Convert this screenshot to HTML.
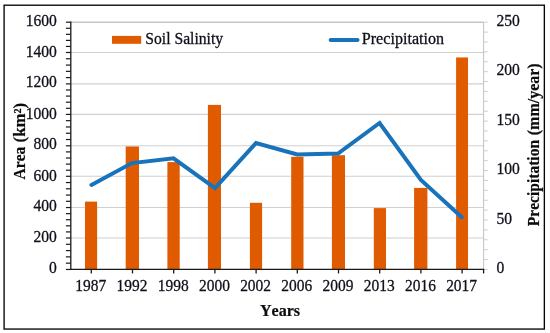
<!DOCTYPE html>
<html><head><meta charset="utf-8"><title>Chart</title>
<style>html,body{margin:0;padding:0;background:#fff;overflow:hidden}body{width:550px;height:333px;position:relative}</style></head>
<body>
<svg width="550" height="333" viewBox="0 0 550 333" style="position:absolute;left:0;top:0">
<rect x="0" y="0" width="550" height="333" fill="#fff"/>
<rect x="4.1" y="5.2" width="540.25" height="323.85" fill="none" stroke="#050505" stroke-width="1.35"/>
<line x1="70.8" y1="238.00" x2="483.6" y2="238.00" stroke="#d0d0d0" stroke-width="1.1"/>
<line x1="70.8" y1="207.55" x2="483.6" y2="207.55" stroke="#d0d0d0" stroke-width="1.1"/>
<line x1="70.8" y1="176.30" x2="483.6" y2="176.30" stroke="#d0d0d0" stroke-width="1.1"/>
<line x1="70.8" y1="145.80" x2="483.6" y2="145.80" stroke="#d0d0d0" stroke-width="1.1"/>
<line x1="70.8" y1="114.40" x2="483.6" y2="114.40" stroke="#d0d0d0" stroke-width="1.1"/>
<line x1="70.8" y1="83.90" x2="483.6" y2="83.90" stroke="#d0d0d0" stroke-width="1.1"/>
<line x1="70.8" y1="52.50" x2="483.6" y2="52.50" stroke="#d0d0d0" stroke-width="1.1"/>
<line x1="70.8" y1="22.20" x2="483.6" y2="22.20" stroke="#c6c6c6" stroke-width="1.4"/>
<line x1="483.6" y1="22.2" x2="483.6" y2="269.46" stroke="#c2c2c2" stroke-width="1"/>
<line x1="483.6" y1="269.46" x2="487.8" y2="269.46" stroke="#cecece" stroke-width="1"/>
<line x1="483.6" y1="259.57" x2="487.8" y2="259.57" stroke="#cecece" stroke-width="1"/>
<line x1="483.6" y1="249.68" x2="487.8" y2="249.68" stroke="#cecece" stroke-width="1"/>
<line x1="483.6" y1="239.79" x2="487.8" y2="239.79" stroke="#cecece" stroke-width="1"/>
<line x1="483.6" y1="229.90" x2="487.8" y2="229.90" stroke="#cecece" stroke-width="1"/>
<line x1="483.6" y1="220.01" x2="487.8" y2="220.01" stroke="#cecece" stroke-width="1"/>
<line x1="483.6" y1="210.12" x2="487.8" y2="210.12" stroke="#cecece" stroke-width="1"/>
<line x1="483.6" y1="200.23" x2="487.8" y2="200.23" stroke="#cecece" stroke-width="1"/>
<line x1="483.6" y1="190.34" x2="487.8" y2="190.34" stroke="#cecece" stroke-width="1"/>
<line x1="483.6" y1="180.45" x2="487.8" y2="180.45" stroke="#cecece" stroke-width="1"/>
<line x1="483.6" y1="170.56" x2="487.8" y2="170.56" stroke="#cecece" stroke-width="1"/>
<line x1="483.6" y1="160.67" x2="487.8" y2="160.67" stroke="#cecece" stroke-width="1"/>
<line x1="483.6" y1="150.78" x2="487.8" y2="150.78" stroke="#cecece" stroke-width="1"/>
<line x1="483.6" y1="140.88" x2="487.8" y2="140.88" stroke="#cecece" stroke-width="1"/>
<line x1="483.6" y1="130.99" x2="487.8" y2="130.99" stroke="#cecece" stroke-width="1"/>
<line x1="483.6" y1="121.10" x2="487.8" y2="121.10" stroke="#cecece" stroke-width="1"/>
<line x1="483.6" y1="111.21" x2="487.8" y2="111.21" stroke="#cecece" stroke-width="1"/>
<line x1="483.6" y1="101.32" x2="487.8" y2="101.32" stroke="#cecece" stroke-width="1"/>
<line x1="483.6" y1="91.43" x2="487.8" y2="91.43" stroke="#cecece" stroke-width="1"/>
<line x1="483.6" y1="81.54" x2="487.8" y2="81.54" stroke="#cecece" stroke-width="1"/>
<line x1="483.6" y1="71.65" x2="487.8" y2="71.65" stroke="#cecece" stroke-width="1"/>
<line x1="483.6" y1="61.76" x2="487.8" y2="61.76" stroke="#cecece" stroke-width="1"/>
<line x1="483.6" y1="51.87" x2="487.8" y2="51.87" stroke="#cecece" stroke-width="1"/>
<line x1="483.6" y1="41.98" x2="487.8" y2="41.98" stroke="#cecece" stroke-width="1"/>
<line x1="483.6" y1="32.09" x2="487.8" y2="32.09" stroke="#cecece" stroke-width="1"/>
<line x1="483.6" y1="22.20" x2="487.8" y2="22.20" stroke="#cecece" stroke-width="1"/>
<rect x="85.00" y="201.60" width="12.10" height="67.86" fill="#e05a00"/>
<rect x="125.70" y="146.45" width="13.30" height="123.01" fill="#e05a00"/>
<rect x="167.40" y="162.10" width="12.30" height="107.36" fill="#e05a00"/>
<rect x="207.90" y="104.90" width="13.10" height="164.56" fill="#e05a00"/>
<rect x="249.90" y="202.80" width="12.20" height="66.66" fill="#e05a00"/>
<rect x="291.20" y="156.80" width="12.30" height="112.66" fill="#e05a00"/>
<rect x="331.90" y="155.20" width="13.10" height="114.26" fill="#e05a00"/>
<rect x="373.80" y="208.10" width="12.20" height="61.36" fill="#e05a00"/>
<rect x="414.10" y="187.90" width="13.30" height="81.56" fill="#e05a00"/>
<rect x="456.10" y="57.45" width="11.90" height="212.01" fill="#e05a00"/>
<line x1="70.8" y1="21.599999999999998" x2="70.8" y2="270.06" stroke="#1a1a1a" stroke-width="1.3"/>
<line x1="65.89999999999999" y1="269.46" x2="70.8" y2="269.46" stroke="#1a1a1a" stroke-width="1.2"/>
<line x1="65.89999999999999" y1="263.17" x2="70.8" y2="263.17" stroke="#1a1a1a" stroke-width="1.2"/>
<line x1="65.89999999999999" y1="256.88" x2="70.8" y2="256.88" stroke="#1a1a1a" stroke-width="1.2"/>
<line x1="65.89999999999999" y1="250.58" x2="70.8" y2="250.58" stroke="#1a1a1a" stroke-width="1.2"/>
<line x1="65.89999999999999" y1="244.29" x2="70.8" y2="244.29" stroke="#1a1a1a" stroke-width="1.2"/>
<line x1="65.89999999999999" y1="238.00" x2="70.8" y2="238.00" stroke="#1a1a1a" stroke-width="1.2"/>
<line x1="65.89999999999999" y1="231.91" x2="70.8" y2="231.91" stroke="#1a1a1a" stroke-width="1.2"/>
<line x1="65.89999999999999" y1="225.82" x2="70.8" y2="225.82" stroke="#1a1a1a" stroke-width="1.2"/>
<line x1="65.89999999999999" y1="219.73" x2="70.8" y2="219.73" stroke="#1a1a1a" stroke-width="1.2"/>
<line x1="65.89999999999999" y1="213.64" x2="70.8" y2="213.64" stroke="#1a1a1a" stroke-width="1.2"/>
<line x1="65.89999999999999" y1="207.55" x2="70.8" y2="207.55" stroke="#1a1a1a" stroke-width="1.2"/>
<line x1="65.89999999999999" y1="201.30" x2="70.8" y2="201.30" stroke="#1a1a1a" stroke-width="1.2"/>
<line x1="65.89999999999999" y1="195.05" x2="70.8" y2="195.05" stroke="#1a1a1a" stroke-width="1.2"/>
<line x1="65.89999999999999" y1="188.80" x2="70.8" y2="188.80" stroke="#1a1a1a" stroke-width="1.2"/>
<line x1="65.89999999999999" y1="182.55" x2="70.8" y2="182.55" stroke="#1a1a1a" stroke-width="1.2"/>
<line x1="65.89999999999999" y1="176.30" x2="70.8" y2="176.30" stroke="#1a1a1a" stroke-width="1.2"/>
<line x1="65.89999999999999" y1="170.20" x2="70.8" y2="170.20" stroke="#1a1a1a" stroke-width="1.2"/>
<line x1="65.89999999999999" y1="164.10" x2="70.8" y2="164.10" stroke="#1a1a1a" stroke-width="1.2"/>
<line x1="65.89999999999999" y1="158.00" x2="70.8" y2="158.00" stroke="#1a1a1a" stroke-width="1.2"/>
<line x1="65.89999999999999" y1="151.90" x2="70.8" y2="151.90" stroke="#1a1a1a" stroke-width="1.2"/>
<line x1="65.89999999999999" y1="145.80" x2="70.8" y2="145.80" stroke="#1a1a1a" stroke-width="1.2"/>
<line x1="65.89999999999999" y1="139.52" x2="70.8" y2="139.52" stroke="#1a1a1a" stroke-width="1.2"/>
<line x1="65.89999999999999" y1="133.24" x2="70.8" y2="133.24" stroke="#1a1a1a" stroke-width="1.2"/>
<line x1="65.89999999999999" y1="126.96" x2="70.8" y2="126.96" stroke="#1a1a1a" stroke-width="1.2"/>
<line x1="65.89999999999999" y1="120.68" x2="70.8" y2="120.68" stroke="#1a1a1a" stroke-width="1.2"/>
<line x1="65.89999999999999" y1="114.40" x2="70.8" y2="114.40" stroke="#1a1a1a" stroke-width="1.2"/>
<line x1="65.89999999999999" y1="108.30" x2="70.8" y2="108.30" stroke="#1a1a1a" stroke-width="1.2"/>
<line x1="65.89999999999999" y1="102.20" x2="70.8" y2="102.20" stroke="#1a1a1a" stroke-width="1.2"/>
<line x1="65.89999999999999" y1="96.10" x2="70.8" y2="96.10" stroke="#1a1a1a" stroke-width="1.2"/>
<line x1="65.89999999999999" y1="90.00" x2="70.8" y2="90.00" stroke="#1a1a1a" stroke-width="1.2"/>
<line x1="65.89999999999999" y1="83.90" x2="70.8" y2="83.90" stroke="#1a1a1a" stroke-width="1.2"/>
<line x1="65.89999999999999" y1="77.62" x2="70.8" y2="77.62" stroke="#1a1a1a" stroke-width="1.2"/>
<line x1="65.89999999999999" y1="71.34" x2="70.8" y2="71.34" stroke="#1a1a1a" stroke-width="1.2"/>
<line x1="65.89999999999999" y1="65.06" x2="70.8" y2="65.06" stroke="#1a1a1a" stroke-width="1.2"/>
<line x1="65.89999999999999" y1="58.78" x2="70.8" y2="58.78" stroke="#1a1a1a" stroke-width="1.2"/>
<line x1="65.89999999999999" y1="52.50" x2="70.8" y2="52.50" stroke="#1a1a1a" stroke-width="1.2"/>
<line x1="65.89999999999999" y1="46.44" x2="70.8" y2="46.44" stroke="#1a1a1a" stroke-width="1.2"/>
<line x1="65.89999999999999" y1="40.38" x2="70.8" y2="40.38" stroke="#1a1a1a" stroke-width="1.2"/>
<line x1="65.89999999999999" y1="34.32" x2="70.8" y2="34.32" stroke="#1a1a1a" stroke-width="1.2"/>
<line x1="65.89999999999999" y1="28.26" x2="70.8" y2="28.26" stroke="#1a1a1a" stroke-width="1.2"/>
<line x1="65.89999999999999" y1="22.2" x2="70.8" y2="22.2" stroke="#1a1a1a" stroke-width="1.2"/>
<line x1="70.2" y1="269.46" x2="484.20000000000005" y2="269.46" stroke="#1a1a1a" stroke-width="1.3"/>
<line x1="91.30" y1="269.46" x2="91.30" y2="273.46" stroke="#1a1a1a" stroke-width="1.3"/>
<line x1="132.50" y1="269.46" x2="132.50" y2="273.46" stroke="#1a1a1a" stroke-width="1.3"/>
<line x1="173.70" y1="269.46" x2="173.70" y2="273.46" stroke="#1a1a1a" stroke-width="1.3"/>
<line x1="214.90" y1="269.46" x2="214.90" y2="273.46" stroke="#1a1a1a" stroke-width="1.3"/>
<line x1="256.10" y1="269.46" x2="256.10" y2="273.46" stroke="#1a1a1a" stroke-width="1.3"/>
<line x1="297.30" y1="269.46" x2="297.30" y2="273.46" stroke="#1a1a1a" stroke-width="1.3"/>
<line x1="338.50" y1="269.46" x2="338.50" y2="273.46" stroke="#1a1a1a" stroke-width="1.3"/>
<line x1="379.70" y1="269.46" x2="379.70" y2="273.46" stroke="#1a1a1a" stroke-width="1.3"/>
<line x1="420.90" y1="269.46" x2="420.90" y2="273.46" stroke="#1a1a1a" stroke-width="1.3"/>
<line x1="462.10" y1="269.46" x2="462.10" y2="273.46" stroke="#1a1a1a" stroke-width="1.3"/>
<line x1="483.60" y1="269.46" x2="483.60" y2="273.46" stroke="#1a1a1a" stroke-width="1.3"/>
<polyline points="91.40,184.90 131.90,163.10 173.50,158.30 215.00,188.20 256.00,143.00 297.20,154.50 338.00,153.60 379.60,123.00 420.90,180.00 461.80,217.20" fill="none" stroke="#1873ba" stroke-width="4.0" stroke-linejoin="miter" stroke-linecap="round"/>
<rect x="112" y="35.9" width="29.2" height="7.9" fill="#e05a00"/>
<line x1="330.6" y1="40.05" x2="357.6" y2="40.05" stroke="#1873ba" stroke-width="3.9" stroke-linecap="round"/>
<text transform="translate(145.3,43.6) scale(0.927,1)" font-family="Liberation Serif, serif" font-size="16.9" fill="#10101c" stroke="#10101c" stroke-width="0.3" style="font-kerning:none" text-anchor="start">Soil Salinity</text>
<text transform="translate(361.8,43.6) scale(0.954,1)" font-family="Liberation Serif, serif" font-size="16.9" fill="#10101c" stroke="#10101c" stroke-width="0.3" style="font-kerning:none" text-anchor="start">Precipitation</text>
<text transform="translate(56.8,273.0) scale(0.95,1)" font-family="Liberation Serif, serif" font-size="16.4" fill="#10101c" stroke="#10101c" stroke-width="0.3" style="font-kerning:none" text-anchor="end">0</text>
<text transform="translate(56.8,241.5) scale(0.95,1)" font-family="Liberation Serif, serif" font-size="16.4" fill="#10101c" stroke="#10101c" stroke-width="0.3" style="font-kerning:none" text-anchor="end">200</text>
<text transform="translate(56.8,211.2) scale(0.95,1)" font-family="Liberation Serif, serif" font-size="16.4" fill="#10101c" stroke="#10101c" stroke-width="0.3" style="font-kerning:none" text-anchor="end">400</text>
<text transform="translate(56.8,180.7) scale(0.95,1)" font-family="Liberation Serif, serif" font-size="16.4" fill="#10101c" stroke="#10101c" stroke-width="0.3" style="font-kerning:none" text-anchor="end">600</text>
<text transform="translate(56.8,149.4) scale(0.95,1)" font-family="Liberation Serif, serif" font-size="16.4" fill="#10101c" stroke="#10101c" stroke-width="0.3" style="font-kerning:none" text-anchor="end">800</text>
<text transform="translate(56.8,118.7) scale(0.95,1)" font-family="Liberation Serif, serif" font-size="16.4" fill="#10101c" stroke="#10101c" stroke-width="0.3" style="font-kerning:none" text-anchor="end">1000</text>
<text transform="translate(56.8,87.4) scale(0.95,1)" font-family="Liberation Serif, serif" font-size="16.4" fill="#10101c" stroke="#10101c" stroke-width="0.3" style="font-kerning:none" text-anchor="end">1200</text>
<text transform="translate(56.8,57.2) scale(0.95,1)" font-family="Liberation Serif, serif" font-size="16.4" fill="#10101c" stroke="#10101c" stroke-width="0.3" style="font-kerning:none" text-anchor="end">1400</text>
<text transform="translate(56.8,25.8) scale(0.95,1)" font-family="Liberation Serif, serif" font-size="16.4" fill="#10101c" stroke="#10101c" stroke-width="0.3" style="font-kerning:none" text-anchor="end">1600</text>
<text transform="translate(496.4,25.6) scale(0.95,1)" font-family="Liberation Serif, serif" font-size="16.4" fill="#10101c" stroke="#10101c" stroke-width="0.3" style="font-kerning:none" text-anchor="start">250</text>
<text transform="translate(496.4,75.2) scale(0.95,1)" font-family="Liberation Serif, serif" font-size="16.4" fill="#10101c" stroke="#10101c" stroke-width="0.3" style="font-kerning:none" text-anchor="start">200</text>
<text transform="translate(496.4,124.7) scale(0.95,1)" font-family="Liberation Serif, serif" font-size="16.4" fill="#10101c" stroke="#10101c" stroke-width="0.3" style="font-kerning:none" text-anchor="start">150</text>
<text transform="translate(496.4,174.3) scale(0.95,1)" font-family="Liberation Serif, serif" font-size="16.4" fill="#10101c" stroke="#10101c" stroke-width="0.3" style="font-kerning:none" text-anchor="start">100</text>
<text transform="translate(496.4,223.5) scale(0.95,1)" font-family="Liberation Serif, serif" font-size="16.4" fill="#10101c" stroke="#10101c" stroke-width="0.3" style="font-kerning:none" text-anchor="start">50</text>
<text transform="translate(496.4,273.2) scale(0.95,1)" font-family="Liberation Serif, serif" font-size="16.4" fill="#10101c" stroke="#10101c" stroke-width="0.3" style="font-kerning:none" text-anchor="start">0</text>
<text transform="translate(90.8,291.1) scale(0.95,1)" font-family="Liberation Serif, serif" font-size="16.3" fill="#10101c" stroke="#10101c" stroke-width="0.3" style="font-kerning:none" text-anchor="middle">1987</text>
<text transform="translate(132.0,291.1) scale(0.95,1)" font-family="Liberation Serif, serif" font-size="16.3" fill="#10101c" stroke="#10101c" stroke-width="0.3" style="font-kerning:none" text-anchor="middle">1992</text>
<text transform="translate(173.2,291.1) scale(0.95,1)" font-family="Liberation Serif, serif" font-size="16.3" fill="#10101c" stroke="#10101c" stroke-width="0.3" style="font-kerning:none" text-anchor="middle">1998</text>
<text transform="translate(214.4,291.1) scale(0.95,1)" font-family="Liberation Serif, serif" font-size="16.3" fill="#10101c" stroke="#10101c" stroke-width="0.3" style="font-kerning:none" text-anchor="middle">2000</text>
<text transform="translate(255.60000000000002,291.1) scale(0.95,1)" font-family="Liberation Serif, serif" font-size="16.3" fill="#10101c" stroke="#10101c" stroke-width="0.3" style="font-kerning:none" text-anchor="middle">2002</text>
<text transform="translate(296.8,291.1) scale(0.95,1)" font-family="Liberation Serif, serif" font-size="16.3" fill="#10101c" stroke="#10101c" stroke-width="0.3" style="font-kerning:none" text-anchor="middle">2006</text>
<text transform="translate(338.0,291.1) scale(0.95,1)" font-family="Liberation Serif, serif" font-size="16.3" fill="#10101c" stroke="#10101c" stroke-width="0.3" style="font-kerning:none" text-anchor="middle">2009</text>
<text transform="translate(379.20000000000005,291.1) scale(0.95,1)" font-family="Liberation Serif, serif" font-size="16.3" fill="#10101c" stroke="#10101c" stroke-width="0.3" style="font-kerning:none" text-anchor="middle">2013</text>
<text transform="translate(420.40000000000003,291.1) scale(0.95,1)" font-family="Liberation Serif, serif" font-size="16.3" fill="#10101c" stroke="#10101c" stroke-width="0.3" style="font-kerning:none" text-anchor="middle">2016</text>
<text transform="translate(461.6,291.1) scale(0.95,1)" font-family="Liberation Serif, serif" font-size="16.3" fill="#10101c" stroke="#10101c" stroke-width="0.3" style="font-kerning:none" text-anchor="middle">2017</text>
<text transform="translate(280,316) scale(0.98,1)" font-family="Liberation Serif, serif" font-size="16.4" font-weight="bold" fill="#0c0c0c" stroke="#0c0c0c" stroke-width="0.2" style="font-kerning:none" text-anchor="middle">Years</text>
<text transform="translate(25.4,179.4) rotate(-90) scale(0.94,1)" font-family="Liberation Serif, serif" font-size="16.5" font-weight="bold" fill="#0c0c0c" stroke="#0c0c0c" stroke-width="0.2" style="font-kerning:none" text-anchor="start">Area</text>
<text transform="translate(25.4,142.4) rotate(-90) scale(1.02,1)" font-family="Liberation Serif, serif" font-size="16.5" font-weight="bold" fill="#0c0c0c" stroke="#0c0c0c" stroke-width="0.2" style="font-kerning:none" text-anchor="start">(km²)</text>
<text transform="translate(539.2,226.2) rotate(-90) scale(0.947,1)" font-family="Liberation Serif, serif" font-size="16.4" font-weight="bold" fill="#0c0c0c" stroke="#0c0c0c" stroke-width="0.2" style="font-kerning:none" text-anchor="start">Precipitation</text>
<text transform="translate(539.2,135.2) rotate(-90) scale(0.975,1)" font-family="Liberation Serif, serif" font-size="16.4" font-weight="bold" fill="#0c0c0c" stroke="#0c0c0c" stroke-width="0.2" style="font-kerning:none" text-anchor="start">(mm/year)</text>
</svg>
</body></html>
